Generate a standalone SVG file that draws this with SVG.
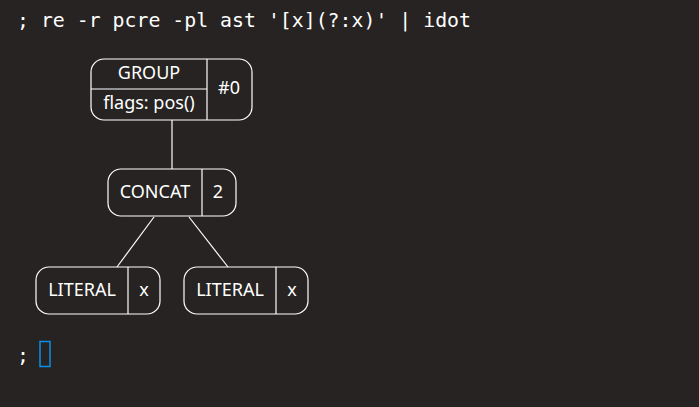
<svg xmlns="http://www.w3.org/2000/svg" width="699" height="407" viewBox="0 0 699 407">
<style>
.box{fill:none;stroke:#ffffff;stroke-width:1.2}
.ln{stroke:#ffffff;stroke-width:1.2;fill:none}
.t{font-family:"Noto Sans","Open Sans",sans-serif;font-size:18px;fill:#ffffff;text-anchor:middle}
.m{font-family:"DejaVu Sans Mono",monospace;font-size:19.85px;fill:#ffffff}
</style>
<rect width="699" height="407" fill="#262322"/>
<text class="m" x="17" y="27" xml:space="preserve">; re -r pcre -pl ast '[x](?:x)' | idot</text>
<g id="connectors">
<line class="ln" x1="172" y1="120" x2="172" y2="169"/>
<line class="ln" x1="154" y1="217" x2="117" y2="267"/>
<line class="ln" x1="189" y1="217" x2="228" y2="267"/>
</g>
<g id="group0">
<rect class="box" x="91" y="59" width="161" height="61" rx="13"/>
<line class="ln" x1="207" y1="59" x2="207" y2="120"/>
<line class="ln" x1="91" y1="89" x2="207" y2="89"/>
<text class="t" x="149" y="79">GROUP</text>
<text class="t" x="149" y="109">flags: pos()</text>
<text class="t" x="229" y="94">#0</text>
</g>
<g id="concat">
<rect class="box" x="108" y="169" width="128" height="47" rx="13"/>
<line class="ln" x1="202" y1="169" x2="202" y2="216"/>
<text class="t" x="155" y="198">CONCAT</text>
<text class="t" x="218" y="198">2</text>
</g>
<g id="literal1">
<rect class="box" x="36" y="267" width="124" height="47" rx="13"/>
<line class="ln" x1="128" y1="267" x2="128" y2="314"/>
<text class="t" x="82" y="296">LITERAL</text>
<text class="t" x="144" y="296">x</text>
</g>
<g id="literal2">
<rect class="box" x="184" y="267" width="124" height="47" rx="13"/>
<line class="ln" x1="276" y1="267" x2="276" y2="314"/>
<text class="t" x="230" y="296">LITERAL</text>
<text class="t" x="292" y="296">x</text>
</g>
<text class="m" x="17" y="362">;</text>
<rect x="40" y="341.5" width="10" height="25" fill="none" stroke="#0a90e6" stroke-width="1.5"/>
</svg>
